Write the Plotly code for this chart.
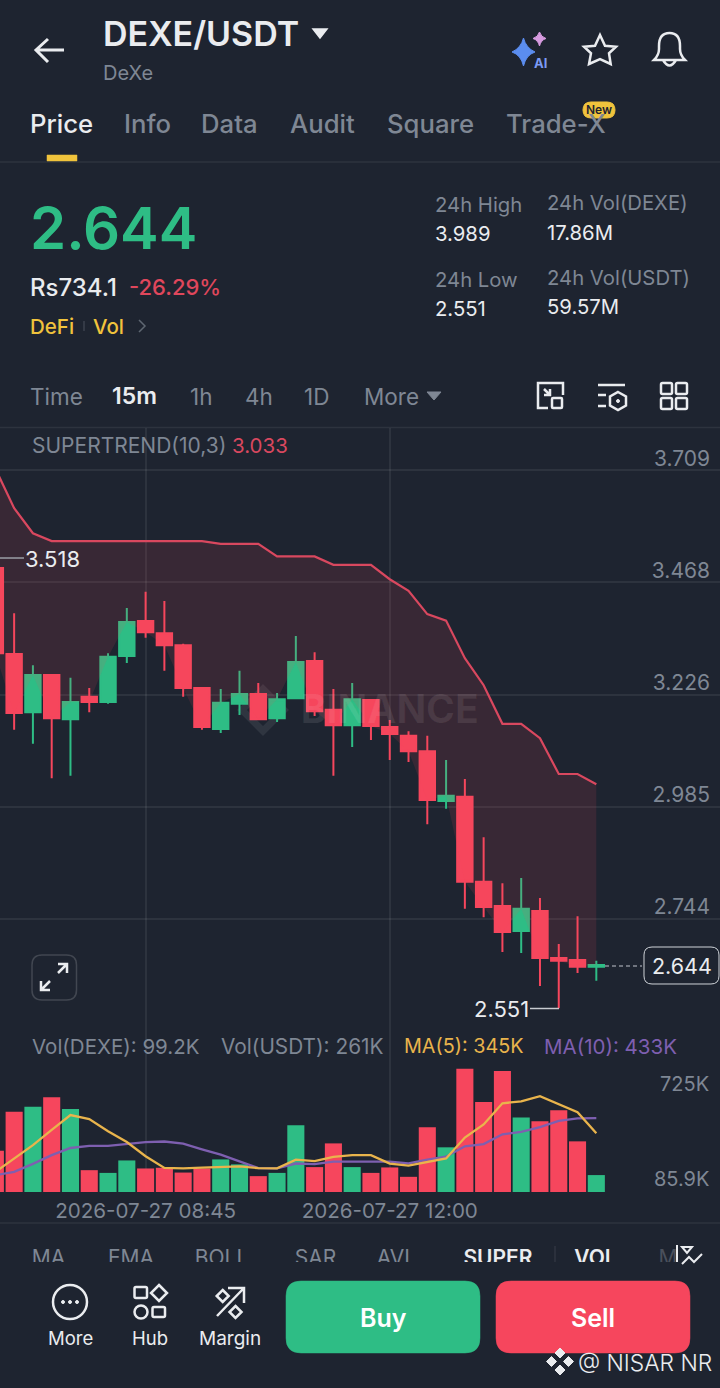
import pandas as pd
import plotly.graph_objects as go

# values, one entry per 15m candle
times = pd.date_range("2026-07-27 06:45", periods=33, freq="15min")
opens = [3.498, 3.313, 3.188, 3.268, 3.173, 3.221, 3.210, 3.309, 3.384, 3.358, 3.332,
         3.240, 3.152, 3.206, 3.227, 3.175, 3.218, 3.298, 3.193, 3.160, 3.214, 3.156,
         3.137, 3.104, 2.997, 3.006, 2.823, 2.771, 2.717, 2.760, 2.659, 2.655, 2.640]
highs = [3.518, 3.401, 3.289, 3.270, 3.262, 3.240, 3.315, 3.412, 3.447, 3.427, 3.335,
         3.242, 3.238, 3.277, 3.251, 3.229, 3.352, 3.317, 3.238, 3.251, 3.216, 3.171,
         3.147, 3.137, 3.085, 3.044, 2.919, 2.820, 2.831, 2.788, 2.689, 2.749, 2.653]
lows = [3.300, 3.150, 3.120, 3.046, 3.051, 3.188, 3.206, 3.294, 3.348, 3.277, 3.221,
        3.150, 3.143, 3.182, 3.171, 3.167, 3.216, 3.180, 3.051, 3.113, 3.128, 3.085,
        3.081, 2.947, 2.980, 2.765, 2.747, 2.672, 2.670, 2.599, 2.551, 2.627, 2.610]
closes = [3.315, 3.186, 3.268, 3.175, 3.210, 3.210, 3.307, 3.382, 3.360, 3.332, 3.240,
          3.156, 3.208, 3.227, 3.173, 3.216, 3.296, 3.190, 3.160, 3.216, 3.158, 3.141,
          3.104, 2.999, 3.008, 2.823, 2.769, 2.715, 2.765, 2.659, 2.653, 2.640, 2.644]
supertrend = [3.712, 3.627, 3.573, 3.556, 3.556, 3.556, 3.556, 3.556, 3.556, 3.556, 3.556,
              3.556, 3.550, 3.550, 3.550, 3.523, 3.523, 3.523, 3.505, 3.505, 3.505, 3.474,
              3.449, 3.399, 3.385, 3.304, 3.246, 3.163, 3.163, 3.132, 3.055, 3.055, 3.033]
volumes = [242, 470, 500, 555, 486, 128, 112, 185, 138, 142, 114,
           138, 191, 162, 93, 112, 392, 146, 285, 146, 112, 144,
           89, 380, 262, 722, 527, 710, 437, 415, 480, 297, 99.2]
ma5 = [118, 199, 275, 364, 451, 428, 356, 293, 210, 141, 138,
       143, 145, 150, 140, 139, 190, 181, 206, 216, 216, 167,
       155, 174, 197, 319, 396, 520, 532, 562, 514, 468, 345]
ma10 = [98, 118, 165, 216, 258, 270, 270, 280, 292, 296, 283,
        250, 219, 180, 140, 139, 167, 163, 178, 178, 178, 178,
        168, 190, 207, 268, 281, 338, 353, 380, 417, 432, 433]

price_ticks = [3.709, 3.468, 3.226, 2.985, 2.744, 2.502]
price_tick_labels = ["3.709", "3.468", "3.226", "2.985", "2.744", "2.502"]
time_ticks = ["2026-07-27 08:45", "2026-07-27 12:00"]
indicator_tabs = ["MA", "EMA", "BOLL", "SAR", "AVL", "SUPER", "VOL", "M"]

W, H = 720, 1388
BG = "#1E2430"
GREEN = "#2EBD85"
RED = "#F6465D"
YELLOW = "#F0C33C"
WHITE = "#EAECEF"
GREY = "#7F8794"
GRID = "rgba(255,255,255,0.07)"
FONT = "Inter"


def px(x):
    return x / W


def py(y):
    return 1 - y / H


def svg(s):
    # "M 10 20 L 30 40" in screen pixels -> path in paper coordinates
    out, nums = [], []
    for tok in s.split():
        if tok.isalpha():
            out.append(tok)
        else:
            nums.append(float(tok))
            if len(nums) % 2 == 0:
                out.append(f"{px(nums[-2]):.5f},{py(nums[-1]):.5f}")
    return " ".join(out)


def rrect(x0, y0, x1, y1, r):
    return (
        f"M {x0 + r} {y0} L {x1 - r} {y0} Q {x1} {y0} {x1} {y0 + r} L {x1} {y1 - r} "
        f"Q {x1} {y1} {x1 - r} {y1} L {x0 + r} {y1} Q {x0} {y1} {x0} {y1 - r} "
        f"L {x0} {y0 + r} Q {x0} {y0} {x0 + r} {y0} Z"
    )


def diamond(cx, cy, r):
    return f"M {cx} {cy - r} L {cx + r} {cy} L {cx} {cy + r} L {cx - r} {cy} Z"


shapes = []
annotations = []


def draw(s, color=WHITE, width=2.5, fill=None, layer="above", dash=None):
    line = dict(color=color, width=width)
    if dash:
        line["dash"] = dash
    shapes.append(dict(type="path", path=svg(s), xref="paper", yref="paper", layer=layer,
                       line=line, fillcolor=fill or "rgba(0,0,0,0)"))


def circle(cx, cy, r, color=WHITE, width=2.5, fill=None):
    shapes.append(dict(type="circle", xref="paper", yref="paper",
                       x0=px(cx - r), x1=px(cx + r), y0=py(cy + r), y1=py(cy - r),
                       line=dict(color=color, width=width), fillcolor=fill or "rgba(0,0,0,0)"))


def text(x, y, s, size=20, color=GREY, weight=400, anchor="left"):
    if anchor == "left":
        x -= 1  # annotations land a pixel to the right
    annotations.append(dict(x=px(x), y=py(y), text=s, xref="paper", yref="paper", showarrow=False,
                            xanchor=anchor, yanchor="middle", borderpad=0,
                            font=dict(family=FONT, size=size, color=color, weight=weight)))


fig = go.Figure()

# watermark sits under the candles
fig.add_trace(go.Scatter(x=[times[21]], y=[3.186], mode="text", text=["BINANCE"], hoverinfo="skip",
                         textfont=dict(family=FONT, size=39, color="rgba(255,255,255,0.09)", weight=700)))
draw(diamond(263, 710, 21), color="rgba(255,255,255,0.08)", width=7, layer="below")

# supertrend band, closes are the lower edge
fig.add_trace(go.Scatter(x=times, y=closes, mode="lines", line=dict(width=0), hoverinfo="skip"))
fig.add_trace(go.Scatter(x=times, y=supertrend, mode="lines", line=dict(color="#D9485F", width=2.2),
                         fill="tonexty", fillcolor="rgba(246,70,93,0.12)"))

fig.add_trace(go.Candlestick(x=times, open=opens, high=highs, low=lows, close=closes,
                             increasing=dict(fillcolor=GREEN, line=dict(color=GREEN, width=2)),
                             decreasing=dict(fillcolor=RED, line=dict(color=RED, width=2))))

vol_colors = [GREEN if c >= o else RED for o, c in zip(opens, closes)]
fig.add_trace(go.Bar(x=times, y=volumes, marker=dict(color=vol_colors, line=dict(width=0)),
                     xaxis="x2", yaxis="y2"))
fig.add_trace(go.Scatter(x=times, y=ma10, mode="lines", line=dict(color="#7E5FB0", width=2.3),
                         xaxis="x2", yaxis="y2"))
fig.add_trace(go.Scatter(x=times, y=ma5, mode="lines", line=dict(color="#E9B44C", width=2.3),
                         xaxis="x2", yaxis="y2"))

# indicator row is cut off by the toolbar, so it lives in its own clipped axes
tab_x = [48.5, 131, 221.5, 315.5, 396.5, 498, 595.5, 668]
tab_colors = [GREY] * 5 + [WHITE, WHITE, "#4A505C"]
fig.add_trace(go.Scatter(x=tab_x, y=[1260] * 8, mode="text", text=indicator_tabs, cliponaxis=True,
                         textfont=dict(family=FONT, size=21, color=tab_colors,
                                       weight=[400] * 5 + [600, 600, 400]),
                         hoverinfo="skip", xaxis="x3", yaxis="y3"))

# header
draw("M 36 50 L 64 50 M 48 39 L 36 50 L 48 62", width=3)
text(103, 34, "DEXE/USDT", size=34, color=WHITE, weight=600)
draw("M 313 29 L 327 29 L 320 38 Z", fill=WHITE, width=1.5)
text(103, 73, "DeXe", size=20)
draw("M 523.5 38 Q 526 48 535 52 Q 526 55 523.5 66 Q 521 55 512 52 Q 521 48 523.5 38 Z",
     color="#5B8DEF", width=1, fill="#5B8DEF")
draw("M 539.5 32 Q 541 37 546 38.5 Q 541 40 539.5 46 Q 538 40 533 38.5 Q 538 37 539.5 32 Z",
     color="#D79BE0", width=1, fill="#D79BE0")
text(540, 63, "AI", size=13, color="#7C9BF5", weight=700, anchor="center")
draw("M 600 35 L 605 45.7 L 616 46.7 L 609 53.3 L 610.7 64 L 600 59 L 589 64 L 591 53.3 L 584 46.7 L 595 45.7 Z",
     width=2.5)
draw("M 654 60 Q 659 55 659 49 L 659 46 Q 659 33 669.5 33 Q 680 33 680 46 L 680 49 Q 680 55 685 60 Z "
     "M 663 60 Q 669.5 71 676 60", width=2.5)

for x, s in [(30, "Price"), (124, "Info"), (201, "Data"), (290, "Audit"), (387, "Square"), (506, "Trade-X")]:
    text(x, 123.5, s, size=25.7, color=WHITE if s == "Price" else GREY, weight=500)
draw(rrect(583, 102, 615, 118, 8), color=YELLOW, width=1, fill=YELLOW)
text(599, 110, "New", size=12, color="#1E2430", weight=600, anchor="center")
draw(rrect(47, 155, 77, 161, 0), color=YELLOW, width=0.5, fill=YELLOW)
draw("M 0 162 L 720 162", color=GRID, width=1.5)

# price block
text(29.5, 228, "2.644", size=58, color=GREEN, weight=600)
text(30, 287, "Rs734.1", size=24, color=WHITE, weight=500)
text(129, 287, "-26.29%", size=22, color="#E0475C", weight=500)
text(30, 326, "DeFi", size=20.5, color=YELLOW, weight=500)
text(93, 326, "Vol", size=20.5, color=YELLOW, weight=500)
draw("M 84 321 L 84 331", color="#4A505C", width=1)
draw("M 139 320 L 145 326 L 139 332", color="#5F6772", width=1.5)
for x, y, s, col in [(435, 205, "24h High", GREY), (435, 234, "3.989", WHITE),
                     (547, 203, "24h Vol(DEXE)", GREY), (547, 232, "17.86M", WHITE),
                     (435, 279, "24h Low", GREY), (435, 308, "2.551", WHITE),
                     (547, 277, "24h Vol(USDT)", GREY), (547, 306, "59.57M", WHITE)]:
    text(x, y, s, size=20.3, color=col)

# interval row
for x, s in [(30, "Time"), (112, "15m"), (190, "1h"), (245, "4h"), (304, "1D"), (364, "More")]:
    text(x, 396, s, size=23 if s == "15m" else 22.5, color=WHITE if s == "15m" else GREY,
         weight=600 if s == "15m" else 400)
draw("M 427 392 L 441 392 L 434 400 Z", color=GREY, width=1, fill=GREY)
draw("M 548 408 L 538 408 L 538 383 L 563 383 L 563 395 M 544 389 L 550 395 M 550 389 L 550 395 L 544 395")
draw(rrect(552, 398, 562, 408, 1), width=2.5)
draw("M 598 385 L 625 385 M 598 395 L 606 395 M 598 406 L 606 406", width=2.5)
draw("M 618 392 L 626 396.5 L 626 405.5 L 618 410 L 610 405.5 L 610 396.5 Z", width=2.5)
circle(618, 401, 1.5, width=1, fill=WHITE)
for x0, y0 in [(661, 383), (676, 383), (661, 398), (676, 398)]:
    draw(rrect(x0, y0, x0 + 11, y0 + 11, 1.5), width=2.5)
draw("M 0 427.5 L 720 427.5", color=GRID, width=1.5)

# chart labels
text(32, 446, "SUPERTREND(10,3)", size=21)
text(232, 446, "3.033", size=20.5, color="#D9485F")
draw("M 0 558 L 24 558", color="#9A9EA6", width=1.5)
text(25, 559, "3.518", size=22, color=WHITE)
draw("M 530 1008.5 L 559 1008.5", color="#C8CBD0", width=1.5)
text(474, 1009, "2.551", size=22, color=WHITE)
draw("M 605 966 L 642 966", color="#8A8F98", width=1.5, dash="4px,3px")
draw(rrect(644, 947, 719, 984, 8), color="#CFD3D8", width=1, fill=BG)
text(682, 966, "2.644", size=21.5, color=WHITE, anchor="center")
draw(rrect(32, 955, 76.5, 1000, 10), color="rgba(255,255,255,0.16)", width=1.5, fill=BG)
draw("M 58 964 L 67 964 L 67 973 M 67 964 L 58 973 M 41 981 L 41 990 L 50 990 M 41 990 L 50 981", width=2.5)

# volume labels
text(32, 1046, "Vol(DEXE): 99.2K", size=20.5)
text(221, 1046, "Vol(USDT): 261K", size=20.8)
text(404, 1046, "MA(5): 345K", size=19.8, color="#E9B44C")
text(544, 1046, "MA(10): 433K", size=20.5, color="#7E5FB0")
text(710, 1084, "725K", size=20, anchor="right")
text(710, 1179, "85.9K", size=20, anchor="right")
draw("M 0 1223 L 720 1223", color=GRID, width=1.5)
draw("M 555 1246 L 555 1262", color="rgba(255,255,255,0.12)", width=1)
draw("M 677 1245 L 677 1262 M 682 1247 L 692 1247 L 687 1253 Z M 682 1264 L 689 1257 L 694 1262 L 702 1254", width=2)

# toolbar
circle(70, 1302, 17)
for cx in (63, 70, 77):
    circle(cx, 1302, 1.5, width=1, fill=WHITE)
draw(rrect(134.5, 1287, 147, 1298, 1.5))
draw(diamond(159, 1293, 8))
circle(141, 1312, 6.5)
draw(rrect(152.5, 1307, 165, 1317, 1.5))
draw(diamond(222.7, 1296, 6))
draw("M 217 1316 L 244 1288 M 228 1288 L 244 1288 L 244 1303")
draw(diamond(235.5, 1312, 6))
text(70, 1338, "More", size=18.5, color=WHITE, anchor="center")
text(150, 1338, "Hub", size=18.5, color=WHITE, anchor="center")
text(230, 1338, "Margin", size=19, color=WHITE, anchor="center")
draw(rrect(286, 1281, 480, 1353, 15), color=GREEN, width=0.5, fill=GREEN)
draw(rrect(496, 1281, 690, 1353, 15), color=RED, width=0.5, fill=RED)
text(383, 1318, "Buy", size=25, color="#FFFFFF", weight=600, anchor="center")
text(593, 1318, "Sell", size=25, color="#FFFFFF", weight=600, anchor="center")
for cx, cy in [(560, 1353), (551.5, 1361.5), (568.5, 1361.5), (560, 1370)]:
    draw(diamond(cx, cy, 5), color=WHITE, width=1, fill=WHITE)
text(578, 1362, "@ NISAR NR", size=22.8, color=WHITE, weight=300)

# candle spacing on screen: 18.78px per 15 minutes, 08:45 at x=145.6
step = pd.Timedelta(minutes=15)
x_left = pd.Timestamp("2026-07-27 08:45") - step * (145.6 / 18.78)
x_right = pd.Timestamp("2026-07-27 08:45") + step * ((W - 145.6) / 18.78)

x_common = dict(type="date", range=[x_left, x_right], showgrid=True, gridcolor=GRID, gridwidth=1.5,
                zeroline=False, showline=False, tickvals=time_ticks, rangeslider=dict(visible=False))

fig.update_layout(
    width=W,
    height=H,
    autosize=False,
    margin=dict(l=0, r=0, t=0, b=0),
    paper_bgcolor=BG,
    plot_bgcolor=BG,
    showlegend=False,
    hovermode=False,
    boxgap=0.18,
    boxgroupgap=0,
    bargap=0.09,
    shapes=shapes,
    annotations=annotations,
    xaxis=dict(x_common, domain=[0, 1], anchor="y", showticklabels=False),
    yaxis=dict(domain=[py(1031), py(428)], range=[2.502, 3.7994], side="right", tickvals=price_ticks,
               ticktext=price_tick_labels, ticklabelposition="inside top", ticklabelstandoff=7,
               ticklabelshift=3, tickfont=dict(family=FONT, size=21, color=GREY), showgrid=True,
               gridcolor=GRID, gridwidth=1.5, zeroline=False, showline=False),
    xaxis2=dict(x_common, domain=[0, 1], anchor="y2", ticktext=time_ticks, ticklabelstandoff=4,
                tickfont=dict(family=FONT, size=20.6, color=GREY)),
    yaxis2=dict(domain=[py(1192), py(1031)], range=[0, 944], showgrid=False, zeroline=False,
                showticklabels=False),
    xaxis3=dict(domain=[0, 1], anchor="y3", range=[0, W], visible=False),
    yaxis3=dict(domain=[py(1262), py(1240)], range=[1262, 1240], visible=False),
)

fig.write_html(
    "out.html",
    config={"displayModeBar": False},
    post_script="document.body.style.margin='0';document.body.style.background='#1E2430';",
)
